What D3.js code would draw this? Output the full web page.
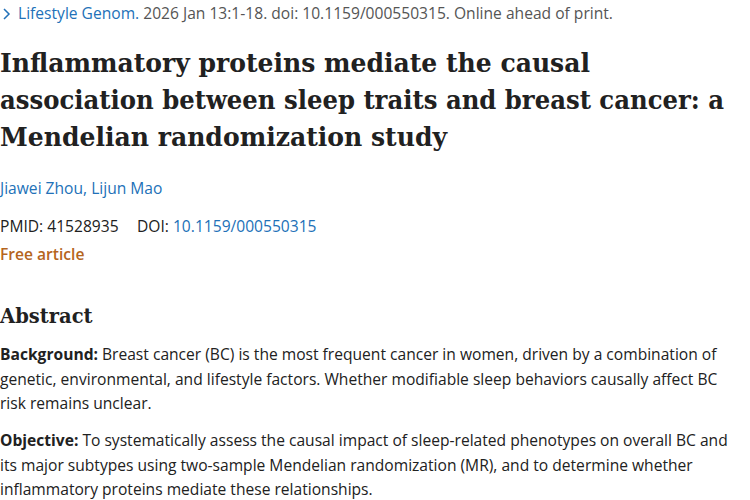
<!DOCTYPE html>
<html><head><meta charset="utf-8">
<script src="https://cdn.jsdelivr.net/npm/d3@7"></script>
<style>body{margin:0;background:#fff}</style>
</head><body>
<script>
var citation = ["Lifestyle Genom.", " 2026 Jan 13:1-18. doi: 10.1159/000550315. Online ahead of print."];
var titleLines = ["Inflammatory proteins mediate the causal",
  "association between sleep traits and breast cancer: a",
  "Mendelian randomization study"];
var authors = "Jiawei Zhou, Lijun Mao";
var pmid = ["PMID: 41528935", "DOI: ", "10.1159/000550315"];
var background = [["Background:", " Breast cancer (BC) is the most frequent cancer in women, driven by a combination of"],
  ["", "genetic, environmental, and lifestyle factors. Whether modifiable sleep behaviors causally affect BC"],
  ["", "risk remains unclear."]];
var objective = [["Objective:", " To systematically assess the causal impact of sleep-related phenotypes on overall BC and"],
  ["", "its major subtypes using two-sample Mendelian randomization (MR), and to determine whether"],
  ["", "inflammatory proteins mediate these relationships."]];

var blue = "#2271b8", ink = "#212121", sans = "'Open Sans', 'Noto Sans', sans-serif", serif = "'DejaVu Serif', serif";
var fs = 15.6;
var svg = d3.select("body").append("svg").attr("width", 750).attr("height", 500);

// citation line
svg.append("path").attr("d", "M4,9 L9,14 L4,19").attr("fill", "none").attr("stroke", blue).attr("stroke-width", 1.5);
var c = svg.append("text").attr("x", 18).attr("y", 19).attr("font-family", sans).attr("font-size", fs);
c.append("tspan").attr("fill", blue).text(citation[0]);
c.append("tspan").attr("fill", "#555").text(citation[1]);

svg.selectAll(".title").data(titleLines).enter().append("text")
  .attr("x", 0).attr("y", function(d, i) { return 72 + i * 37; })
  .attr("font-family", serif).attr("font-weight", "bold").attr("font-size", 26).attr("fill", ink)
  .attr("textLength", function(d, i) { return [590, 724, 447][i]; }).attr("lengthAdjust", "spacingAndGlyphs")
  .text(function(d) { return d; });

svg.append("text").attr("x", 0).attr("y", 194).attr("font-family", sans).attr("font-size", fs).attr("fill", blue).text(authors);

var p = svg.append("text").attr("x", 0).attr("y", 232).attr("font-family", sans).attr("font-size", fs).attr("fill", ink);
p.append("tspan").text(pmid[0]);
p.append("tspan").attr("x", 137).text(pmid[1]);
p.append("tspan").attr("fill", blue).text(pmid[2]);

svg.append("text").attr("x", 0).attr("y", 260).attr("font-family", sans).attr("font-size", fs)
  .attr("font-weight", 600).attr("fill", "#b5651d").text("Free article");

svg.append("text").attr("x", 0).attr("y", 323).attr("font-family", serif).attr("font-weight", "bold")
  .attr("font-size", 19.5).attr("fill", ink).text("Abstract");

function para(lines, y0) {
  var t = svg.selectAll(null).data(lines).enter().append("text")
    .attr("x", 0).attr("y", function(d, i) { return y0 + i * 24.5; })
    .attr("font-family", sans).attr("font-size", fs).attr("fill", ink);
  t.append("tspan").attr("font-weight", "bold").text(function(d) { return d[0]; });
  t.append("tspan").text(function(d) { return d[1]; });
}
para(background, 360);
para(objective, 446);
</script>
</body></html>
